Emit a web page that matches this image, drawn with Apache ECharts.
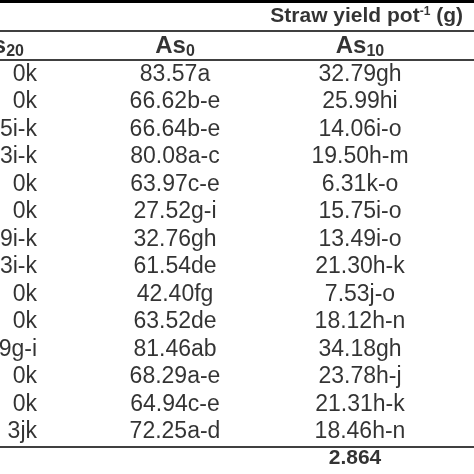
<!DOCTYPE html>
<html><head><meta charset="utf-8">
<script src="https://cdn.jsdelivr.net/npm/echarts@6/dist/echarts.min.js"></script>
<style>html,body{margin:0;padding:0;background:#fff}#c{width:474px;height:474px}</style>
</head><body><div id="c"></div>
<script>
// left column is cut off in the picture, only the ends are visible
var colAs20 = ['0k','0k','5i-k','3i-k','0k','0k','9i-k','3i-k','0k','0k','9g-i','0k','0k','3jk'];
var colAs0 = ['83.57a','66.62b-e','66.64b-e','80.08a-c','63.97c-e','27.52g-i','32.76gh','61.54de','42.40fg','63.52de','81.46ab','68.29a-e','64.94c-e','72.25a-d'];
var colAs10 = ['32.79gh','25.99hi','14.06i-o','19.50h-m','6.31k-o','15.75i-o','13.49i-o','21.30h-k','7.53j-o','18.12h-n','34.18gh','23.78h-j','21.31h-k','18.46h-n'];
var headers = ['As{s|20}','As{s|0}','As{s|10}'];
var lsd = '2.864';
var colX = [37, 175, 360];

var chart = echarts.init(document.getElementById('c'));
var cells = [];
[colAs20, colAs0, colAs10].forEach(function (col, ci) {
  col.forEach(function (t, ri) {
    cells.push({value: [colX[ci], ri], label: {formatter: t, align: ci === 0 ? 'right' : 'center'}});
  });
});
var heads = headers.map(function (h, ci) {
  return {value: [ci === 0 ? 24 : colX[ci], -1], label: {formatter: h, align: ci === 0 ? 'right' : 'center'}};
});

chart.setOption({
  animation: false,
  grid: {left: 0, right: 0, top: 0, bottom: 0},
  xAxis: {type: 'value', min: 0, max: 474, show: false},
  yAxis: {type: 'value', min: -2.7, max: 14.536, inverse: true, show: false},
  series: [{
    type: 'scatter', symbolSize: 0, data: cells,
    label: {show: true, position: 'inside', color: '#000', fontSize: 23, fontFamily: 'Liberation Sans'},
    markLine: {
      symbol: 'none', silent: true, label: {show: false},
      data: [
        {yAxis: -2.64, lineStyle: {color: '#000', width: 3, type: 'solid'}},
        {yAxis: -1.6, lineStyle: {color: '#000', width: 1.5, type: 'solid'}},
        {yAxis: -0.52, lineStyle: {color: '#000', width: 1.5, type: 'solid'}},
        {yAxis: 13.55, lineStyle: {color: '#000', width: 1.5, type: 'solid'}}
      ]
    }
  }, {
    type: 'scatter', symbolSize: 0, data: heads,
    label: {show: true, position: 'inside', color: '#000', fontSize: 24, fontWeight: 'bold', fontFamily: 'Liberation Sans',
      rich: {s: {fontSize: 16, fontWeight: 'bold', fontFamily: 'Liberation Sans', padding: [10, 0, 0, 0]}}}
  }, {
    type: 'scatter', symbolSize: 0,
    data: [
      {value: [463, -2.1], label: {formatter: 'Straw yield pot{sup|-1} (g)', align: 'right'}},
      {value: [colX[2] - 5, 13.95], label: {formatter: lsd, align: 'center'}}
    ],
    label: {show: true, position: 'inside', color: '#000', fontSize: 21, fontWeight: 'bold', fontFamily: 'Liberation Sans',
      rich: {sup: {fontSize: 12, fontWeight: 'bold', fontFamily: 'Liberation Sans', padding: [0, 0, 10, 0]}}}
  }]
});
</script></body></html>
